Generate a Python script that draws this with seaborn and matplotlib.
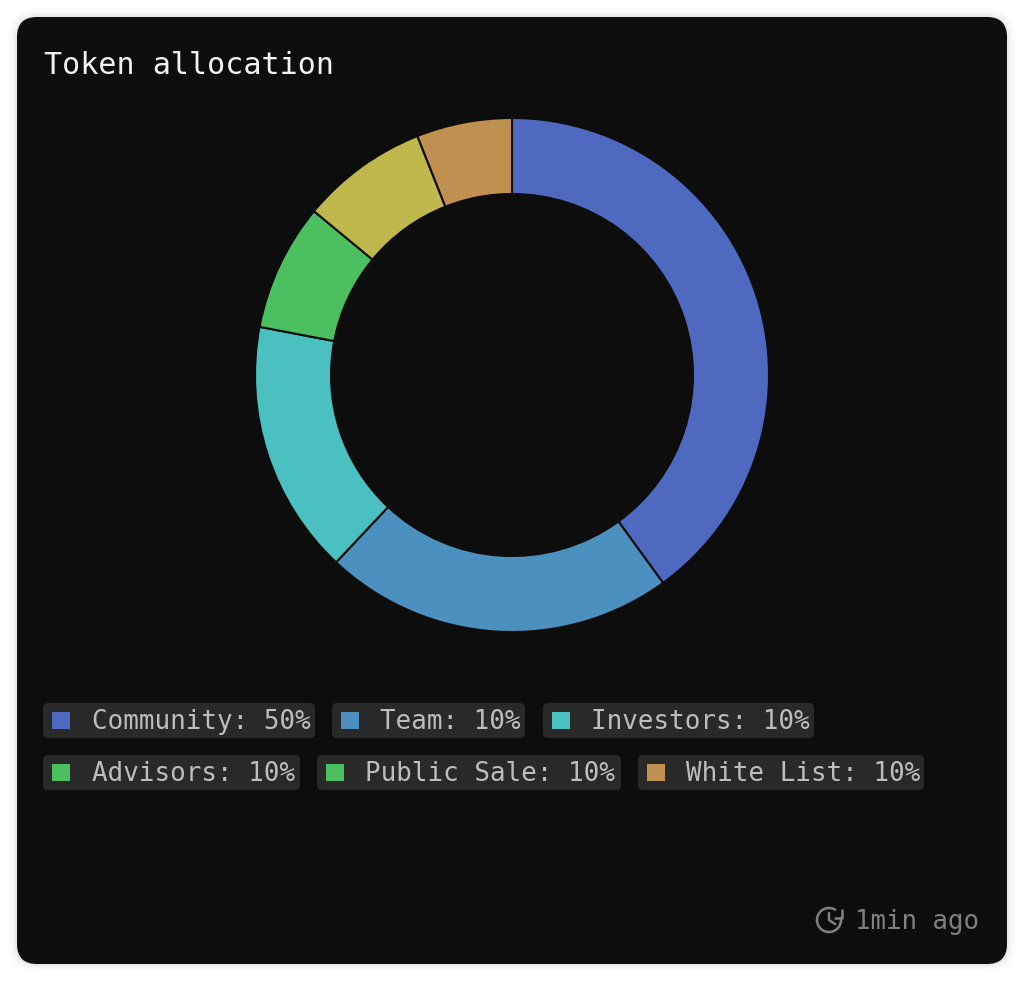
import numpy as np
import matplotlib
matplotlib.use('Agg')
import matplotlib.pyplot as plt
from matplotlib.patches import FancyBboxPatch, Rectangle, Arc
import seaborn as sns

# slices, clockwise from the top
slice_shares = [40, 22, 16, 8, 8, 6]
slice_colors = ['#4F68C0', '#4C90C0', '#4BC0C0', '#4CC060', '#C0B84C', '#C09050']

# the legend text does not agree with the slices, same as in the original
legend_labels = ['Community: 50%', 'Team: 10%', 'Investors: 10%',
                 'Advisors: 10%', 'Public Sale: 10%', 'White List: 10%']
legend_colors = ['#4F68C0', '#4C90C0', '#4BC0C0', '#4CC060', '#4CC060', '#C09050']

title_text = 'Token allocation'
time_text = '1min ago'

W, H = 1024, 981

sns.set_theme(style='white')
plt.rcParams['font.family'] = ['DejaVu Sans Mono']

fig = plt.figure(figsize=(W / 100, H / 100), dpi=100, facecolor='white')

# whole-figure axes in pixel coordinates for the card and the legend chips
bg = fig.add_axes([0, 0, 1, 1], zorder=0)
bg.set_xlim(0, W)
bg.set_ylim(H, 0)
bg.axis('off')


def rounded(ax, x0, y0, x1, y1, r, color, alpha=1.0, z=1):
    box = FancyBboxPatch((x0 + r, y0 + r), x1 - x0 - 2 * r, y1 - y0 - 2 * r,
                         boxstyle='round,pad=%f,rounding_size=%f' % (r, r),
                         fc=color, ec='none', alpha=alpha, zorder=z)
    ax.add_patch(box)


# soft shadow round the card
for grow, a in [(9, 0.008), (7, 0.012), (5, 0.016), (3, 0.022), (1.5, 0.03)]:
    rounded(bg, 17 - grow, 17 - grow, 1007 + grow, 964 + grow, 20 + grow, 'black', a, 1)
rounded(bg, 17, 17, 1007, 964, 20, '#0D0D0D', 1, 2)

bg.text(44, 65, title_text, color='#F2F2F2', fontsize=21.6, va='center', ha='left', zorder=3)

# legend chips: x0, x1 of chip, row top
chip_pos = [(43, 315, 703), (332, 525, 703), (543, 814, 703),
            (43, 300, 755), (317, 621, 755), (638, 924, 755)]
text_x = [92, 380, 591, 92, 365, 686]
for (x0, x1, top), tx, lab, col in zip(chip_pos, text_x, legend_labels, legend_colors):
    rounded(bg, x0, top, x1, top + 35, 5, '#292929', 1, 3)
    bg.add_patch(Rectangle((x0 + 9, top + 9), 18, 17, fc=col, ec='none', zorder=4))
    bg.text(tx, top + 19, lab, color='#BDBDBD', fontsize=18.6, va='center', ha='left', zorder=4)

# clock icon and time stamp
cx, cy = 829, 920
bg.add_patch(Arc((cx, cy), 24, 24, theta1=-15, theta2=305, color='#808080', lw=1.8, zorder=4))
bg.plot([cx, cx, cx + 6], [cy - 7, cy, cy + 4], color='#808080', lw=1.8, zorder=4)
bg.plot([cx + 6, cx + 13, cx + 13], [cy - 2, cy - 2, cy - 10], color='#808080', lw=1.8, zorder=4)
bg.text(855, 922, time_text, color='#808080', fontsize=18.5, va='center', ha='left', zorder=4)

# donut
ax = fig.add_axes([255 / W, 1 - 632 / H, 514 / W, 514 / H], zorder=1)
ax.patch.set_alpha(0)
wedges, _ = ax.pie(slice_shares, colors=sns.color_palette(slice_colors), startangle=90,
                   counterclock=False, radius=1,
                   wedgeprops=dict(width=76 / 257, edgecolor='#0D0D0D', linewidth=1.5))
ax.set_xlim(-1, 1)
ax.set_ylim(-1, 1)
ax.set_aspect('equal')
for w in wedges:
    w.set_clip_on(False)

fig.savefig('out.png', dpi=100, facecolor='white')
